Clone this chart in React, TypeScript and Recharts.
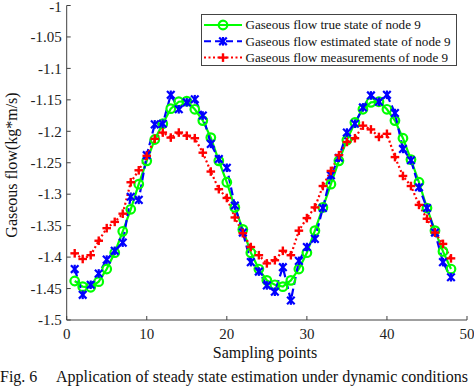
import React from 'react';
import { LineChart, Line, XAxis, YAxis, Legend } from 'recharts';

const samplingPoints = [
  1, 2, 3, 4, 5, 6, 7, 8, 9, 10, 11, 12, 13, 14, 15, 16, 17, 18, 19, 20, 21, 22, 23, 24,
  25, 26, 27, 28, 29, 30, 31, 32, 33, 34, 35, 36, 37, 38, 39, 40, 41, 42, 43, 44, 45, 46, 47, 48,
];

const trueState = [
  -1.438, -1.447, -1.448, -1.439, -1.419, -1.393, -1.359, -1.324, -1.284, -1.247,
  -1.213, -1.188, -1.164, -1.153, -1.152, -1.165, -1.183, -1.21, -1.247, -1.281,
  -1.321, -1.356, -1.393, -1.419, -1.437, -1.444, -1.447, -1.437, -1.419, -1.393,
  -1.358, -1.321, -1.284, -1.247, -1.214, -1.186, -1.165, -1.154, -1.153, -1.165,
  -1.183, -1.211, -1.245, -1.281, -1.322, -1.358, -1.391, -1.419,
];

const estimatedState = [
  -1.419, -1.46, -1.444, -1.426, -1.404, -1.39, -1.377, -1.304, -1.309, -1.238,
  -1.189, -1.188, -1.142, -1.165, -1.154, -1.149, -1.175, -1.22, -1.244, -1.258,
  -1.318, -1.361, -1.408, -1.423, -1.445, -1.455, -1.416, -1.469, -1.406, -1.384,
  -1.371, -1.322, -1.27, -1.242, -1.202, -1.188, -1.162, -1.143, -1.153, -1.142,
  -1.171, -1.228, -1.246, -1.289, -1.322, -1.361, -1.408, -1.432,
];

const measurements = [
  -1.394, -1.403, -1.397, -1.374, -1.354, -1.344, -1.331, -1.281, -1.262, -1.239,
  -1.212, -1.202, -1.21, -1.202, -1.207, -1.211, -1.234, -1.264, -1.292, -1.306,
  -1.337, -1.362, -1.384, -1.397, -1.41, -1.405, -1.39, -1.397, -1.358, -1.338,
  -1.321, -1.287, -1.263, -1.238, -1.217, -1.211, -1.191, -1.197, -1.209, -1.204,
  -1.241, -1.271, -1.287, -1.317, -1.339, -1.361, -1.379, -1.402,
];

const xTicks = [0, 10, 20, 30, 40, 50];
const yTicks = [-1.5, -1.45, -1.4, -1.35, -1.3, -1.25, -1.2, -1.15, -1.1, -1.05, -1];

const legendLabels = [
  'Gaseous flow true state of node 9',
  'Gaseous flow estimated state of node 9',
  'Gaseous flow measurements of node 9',
];

const data = samplingPoints.map((x, i) => ({
  x,
  trueState: trueState[i],
  estimatedState: estimatedState[i],
  measurements: measurements[i],
}));

const FONT = '"Liberation Serif", "Times New Roman", serif';
const GREEN = '#00ff00';
const BLUE = '#0000ff';
const RED = '#ff0000';
const AXIS = '#404040';

const fmt = (v: number) => String(Number(v.toFixed(2)));

const XTick = (props: any) => {
  const { x, y, payload } = props;
  return (
    <g>
      <line x1={x} y1={y} x2={x} y2={y - 4} stroke={AXIS} strokeWidth={1} />
      <text x={x} y={y + 19} textAnchor="middle" fontFamily={FONT} fontSize={15} fill="#222">
        {payload.value}
      </text>
    </g>
  );
};

const YTick = (props: any) => {
  const { x, y, payload } = props;
  const ty = payload.value === -1 ? y + 1.5 : y;
  return (
    <g>
      <line x1={x} y1={y} x2={x + 4} y2={y} stroke={AXIS} strokeWidth={1} />
      <text x={x - 5} y={ty} dy="0.35em" textAnchor="end" fontFamily={FONT} fontSize={15} fill="#222">
        {fmt(payload.value)}
      </text>
    </g>
  );
};

const CircleMarker = ({ cx, cy, r = 4.3 }: any) => (
  <circle cx={cx} cy={cy} r={r} fill="none" stroke={GREEN} strokeWidth={2.2} />
);

const StarMarker = ({ cx, cy, s = 3.8 }: any) => (
  <g stroke={BLUE} strokeWidth={2.2}>
    <line x1={cx - s} y1={cy - s} x2={cx + s} y2={cy + s} />
    <line x1={cx - s} y1={cy + s} x2={cx + s} y2={cy - s} />
    <line x1={cx} y1={cy - s - 0.5} x2={cx} y2={cy + s + 0.5} />
  </g>
);

const PlusMarker = ({ cx, cy, s = 4.3 }: any) => (
  <g stroke={RED} strokeWidth={2.4}>
    <line x1={cx - s} y1={cy} x2={cx + s} y2={cy} />
    <line x1={cx} y1={cy - s} x2={cx} y2={cy + s} />
  </g>
);

const renderLegend = () => {
  const rows = [
    { label: legendLabels[0], color: GREEN, dash: undefined, Marker: CircleMarker },
    { label: legendLabels[1], color: BLUE, dash: '7 4', Marker: StarMarker },
    { label: legendLabels[2], color: RED, dash: '2 2.5', Marker: PlusMarker },
  ];
  return (
    <svg width={256} height={52} style={{ display: 'block', overflow: 'visible' }}>
      <rect x={0.5} y={0.5} width={255} height={51} fill="#fff" stroke="#444" strokeWidth={1} />
      {rows.map((r, i) => {
        const cy = 11 + i * 16.3;
        return (
          <g key={r.label}>
            <line x1={3} y1={cy} x2={41} y2={cy} stroke={r.color} strokeWidth={2} strokeDasharray={r.dash} />
            <r.Marker cx={22} cy={cy} />
            <text x={44.5} y={cy} dy="0.34em" fontFamily={FONT} fontSize={13.1} fill="#111">
              {r.label}
            </text>
          </g>
        );
      })}
    </svg>
  );
};

const XLabel = () => (
  <g>
    <text x={265} y={358} textAnchor="middle" fontFamily={FONT} fontSize={16} fill="#111">
      Sampling points
    </text>
    <text y={382} fontFamily={FONT} fontSize={16} fill="#111">
      <tspan x={0}>Fig. 6</tspan>
      <tspan x={56}>Application of steady state estimation under dynamic conditions</tspan>
    </text>
  </g>
);

const YLabel = () => (
  <text
    x={0}
    y={0}
    transform="translate(17 165) rotate(-90)"
    textAnchor="middle"
    fontFamily={FONT}
    fontSize={16}
    fill="#111"
  >
    Gaseous flow(kg*m/s)
  </text>
);

export default function App() {
  return (
    <div style={{ position: 'absolute', left: 0, top: 0, width: 474, height: 387, background: '#fff' }}>
      <LineChart width={474} height={387} data={data} margin={{ top: 5.5, right: 7, bottom: 0, left: 0 }}>
        <XAxis
          dataKey="x"
          type="number"
          domain={[0, 50]}
          ticks={xTicks}
          tickLine={false}
          tickSize={0}
          tickMargin={0}
          height={67}
          axisLine={{ stroke: AXIS, strokeWidth: 1 }}
          tick={<XTick />}
          interval={0}
          label={{ content: <XLabel /> }}
        />
        <YAxis
          type="number"
          domain={[-1.5, -1]}
          ticks={yTicks}
          tickLine={false}
          tickSize={0}
          tickMargin={0}
          width={66.7}
          axisLine={{ stroke: AXIS, strokeWidth: 1 }}
          tick={<YTick />}
          interval={0}
          label={{ content: <YLabel /> }}
        />
        <Legend
          layout="horizontal"
          align="center"
          verticalAlign="middle"
          content={renderLegend}
          wrapperStyle={{ left: 200.5, top: 13.5, width: 256, height: 52 }}
        />
        <Line
          type="linear"
          dataKey="trueState"
          name={legendLabels[0]}
          stroke={GREEN}
          strokeWidth={2.2}
          isAnimationActive={false}
          dot={(p: any) => <CircleMarker key={`g${p.index}`} cx={p.cx} cy={p.cy} />}
          activeDot={false}
        />
        <Line
          type="linear"
          dataKey="estimatedState"
          name={legendLabels[1]}
          stroke={BLUE}
          strokeWidth={2.2}
          strokeDasharray="8 4"
          isAnimationActive={false}
          dot={(p: any) => <StarMarker key={`b${p.index}`} cx={p.cx} cy={p.cy} />}
          activeDot={false}
        />
        <Line
          type="linear"
          dataKey="measurements"
          name={legendLabels[2]}
          stroke={RED}
          strokeWidth={2.2}
          strokeDasharray="2 2.5"
          isAnimationActive={false}
          dot={(p: any) => <PlusMarker key={`r${p.index}`} cx={p.cx} cy={p.cy} />}
          activeDot={false}
        />
      </LineChart>
    </div>
  );
}
